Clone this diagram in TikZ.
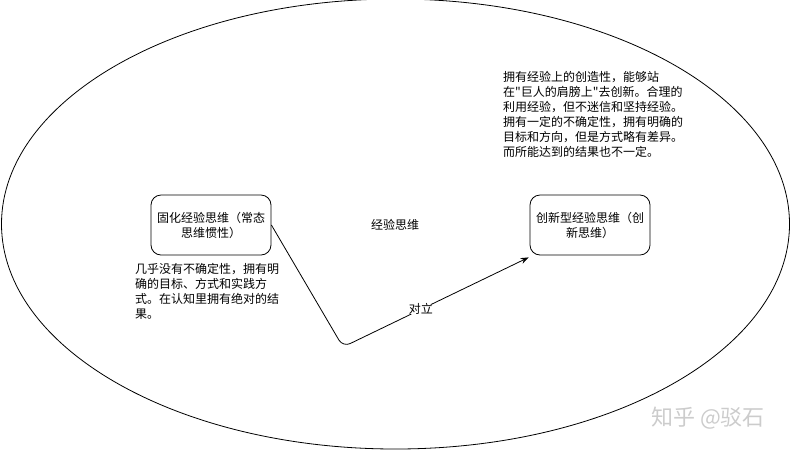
\documentclass[tikz,border=0pt]{standalone}
\usepackage{fontspec}
\setmainfont{Noto Sans CJK SC}[Ligatures=TeXOff]
\usetikzlibrary{arrows.meta,calc}
\begin{document}
\begin{tikzpicture}[x=1pt,y=-1pt,
  box/.style={draw,line width=0.8pt,rounded corners=10pt,minimum width=120pt,minimum height=60pt,align=center,inner sep=0pt,font=\fontsize{12}{15}\selectfont},
  note/.style={align=left,inner sep=0pt,anchor=north west,font=\fontsize{12}{15}\selectfont},
  conn/.style={line width=0.8pt,rounded corners=8pt,-{Stealth[length=8pt,width=6pt]}}]
\useasboundingbox (0,0) rectangle (791,451);
\draw[line width=0.8pt] (395.5,224) ellipse [x radius=394, y radius=225];
\node[box] (L) at (211,225) {固化经验思维（常态\\思维惯性）};
\node[box] (R) at (590,225) {创新型经验思维（创\\新思维）};
\node[font=\fontsize{12}{15}\selectfont] (M) at (395,225) {经验思维};
\node[note] (T) at (503,71) {拥有经验上的创造性，能够站\\在"巨人的肩膀上"去创新。合理的\\利用经验，但不迷信和坚持经验。\\拥有一定的不确定性，拥有明确的\\目标和方向，但是方式略有差异。\\而所能达到的结果也不一定。};
\node[note] (B) at (135,263) {几乎没有不确定性，拥有明\\确的目标、方式和实践方\\式。在认知里拥有绝对的结\\果。};
\coordinate (K) at (343,347);
\coordinate (E) at ($(R.south west)+(-1,2)$);
\draw[conn] (L.east) -- (K) -- (E) node[pos=0.42,fill=white,inner sep=1pt,font=\fontsize{12}{15}\selectfont] (D) {对立};
\node[text=gray!40,font=\fontsize{22}{26}\selectfont] (W) at (708,418) {知乎 @驳石};
\end{tikzpicture}
\end{document}
